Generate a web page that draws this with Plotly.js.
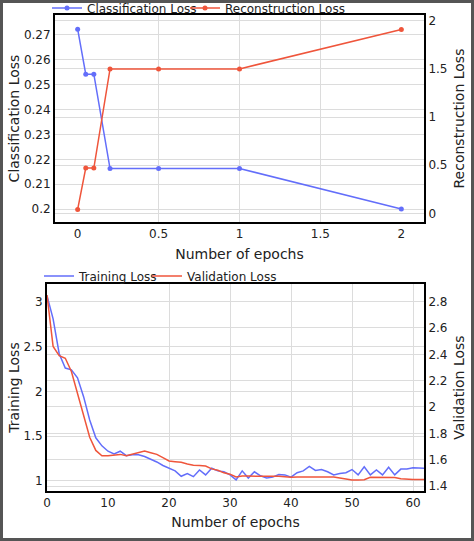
<!DOCTYPE html>
<html>
<head>
<meta charset="utf-8">
<script src="https://cdn.plot.ly/plotly-3.0.1.min.js"></script>
<style>
  html, body { margin: 0; padding: 0; background: #fff; overflow: hidden; }
  #wrap { width: 474px; height: 541px; overflow: hidden; position: relative; }
  #chart { position: absolute; left: 0; }
</style>
</head>
<body>
<div id="wrap"><div id="chart"></div></div>
<script>
// Upper panel: losses over the first two epochs
const stepEpochs = [0, 0.05, 0.1, 0.2, 0.5, 1, 2];
const classificationLoss = [0.2723, 0.2542, 0.2542, 0.2163, 0.2163, 0.2163, 0.2];
const reconstructionLoss = [0.04, 0.47, 0.47, 1.5, 1.5, 1.5, 1.91];

// Lower panel: per-epoch training / validation loss
const epochs = [];
for (let i = 0; i <= 62; i++) epochs.push(i);
const trainingLoss = [
  3.07, 2.81, 2.42, 2.26, 2.24, 2.15, 1.94, 1.68, 1.48, 1.39,
  1.33, 1.30, 1.33, 1.28, 1.29, 1.29, 1.27, 1.24, 1.21, 1.17,
  1.14, 1.11, 1.05, 1.08, 1.045, 1.12, 1.065, 1.14, 1.11, 1.10,
  1.065, 1.01, 1.11, 1.03, 1.10, 1.055, 1.03, 1.04, 1.07, 1.065,
  1.04, 1.09, 1.11, 1.16, 1.115, 1.125, 1.10, 1.065, 1.08, 1.09,
  1.125, 1.065, 1.155, 1.065, 1.12, 1.065, 1.15, 1.065, 1.13, 1.13,
  1.145, 1.14, 1.14
];
const validationLoss = [
  2.85, 2.46, 2.39, 2.37, 2.27, 2.10, 1.93, 1.77, 1.67, 1.63,
  1.63, 1.635, 1.64, 1.63, 1.64, 1.655, 1.665, 1.653, 1.64, 1.615,
  1.59, 1.585, 1.58, 1.567, 1.557, 1.556, 1.552, 1.53, 1.52, 1.50,
  1.49, 1.468, 1.475, 1.475, 1.476, 1.475, 1.475, 1.474, 1.474, 1.47,
  1.466, 1.468, 1.468, 1.47, 1.47, 1.47, 1.47, 1.468, 1.46, 1.452,
  1.445, 1.445, 1.447, 1.466, 1.466, 1.466, 1.466, 1.465, 1.455, 1.45,
  1.45, 1.45, 1.45
];

// Vertical grid positions (the axes carry labels, these carry the grid)
const stepGrid = [0.5, 1, 1.5];
const epochGrid = [20, 30, 40, 50, 60];

const BLUE = '#636efa';
const RED = '#ef553b';
const FONT = 'DejaVu Sans, Verdana, sans-serif';
const TXT = '#222';
const GRID = '#dcdcdc';

// The figure extends a little above the visible page so the legends can sit
// right at the top edge without pushing the plot margins.
const W = 474, VIEW_H = 541, OFF = 14, H = VIEW_H + OFF;
document.getElementById('chart').style.top = (-OFF) + 'px';
const fx = px => px / W;                 // page x (px) -> paper fraction
const fy = px => 1 - (px + OFF) / H;     // page y (px) -> paper fraction

const traces = [
  // empty placeholders that register the grid-only x axes
  { x: [], y: [], type: 'scatter', mode: 'lines', xaxis: 'x3', yaxis: 'y',
    showlegend: false, hoverinfo: 'skip' },
  { x: [], y: [], type: 'scatter', mode: 'lines', xaxis: 'x4', yaxis: 'y3',
    showlegend: false, hoverinfo: 'skip' },
  { x: stepEpochs, y: classificationLoss, name: 'Classification Loss', type: 'scatter',
    mode: 'lines+markers', xaxis: 'x', yaxis: 'y', legend: 'legend',
    line: { color: BLUE, width: 1.5 }, marker: { color: BLUE, size: 5 } },
  { x: stepEpochs, y: reconstructionLoss, name: 'Reconstruction Loss', type: 'scatter',
    mode: 'lines+markers', xaxis: 'x', yaxis: 'y2', legend: 'legend2',
    line: { color: RED, width: 1.5 }, marker: { color: RED, size: 5 } },
  { x: epochs, y: trainingLoss, name: 'Training Loss', type: 'scatter', mode: 'lines',
    xaxis: 'x2', yaxis: 'y3', legend: 'legend3',
    line: { color: BLUE, width: 1.5 } },
  { x: epochs, y: validationLoss, name: 'Validation Loss', type: 'scatter', mode: 'lines',
    xaxis: 'x2', yaxis: 'y4', legend: 'legend4',
    line: { color: RED, width: 1.5 } }
];

function axisBase(extra) {
  return Object.assign({
    showline: true, linecolor: '#000', linewidth: 2,
    showgrid: true, gridcolor: GRID, gridwidth: 1,
    zeroline: false, ticks: '', automargin: false,
    tickfont: { family: FONT, size: 12, color: TXT }
  }, extra);
}
function gridAxis(extra) {
  return Object.assign({
    showline: false, showticklabels: false, ticks: '', zeroline: false,
    showgrid: true, gridcolor: GRID, gridwidth: 1, automargin: false, tickmode: 'array'
  }, extra);
}
function title(text, standoff) {
  return { text: text, font: { family: FONT, size: 14, color: TXT }, standoff: standoff };
}
function legendAt(xPx, yPx) {
  return { x: fx(xPx), y: fy(yPx), xanchor: 'left', yanchor: 'middle',
    orientation: 'h', bgcolor: 'rgba(0,0,0,0)', borderwidth: 0,
    font: { family: FONT, size: 12, color: TXT }, itemwidth: 30 };
}

const stepRange = [-0.14, 2.14];
const epochRange = [0, 61.8];

const layout = {
  width: W, height: H,
  margin: { l: 0, r: 0, t: 0, b: 0 },
  paper_bgcolor: '#fff', plot_bgcolor: '#fff',
  font: { family: FONT, size: 12, color: TXT },
  showlegend: true,
  xaxis: axisBase({ domain: [fx(55), fx(424)], range: stepRange, dtick: 0.5, tick0: 0,
    showgrid: false, anchor: 'y', mirror: true, title: title('Number of epochs', 9) }),
  xaxis3: gridAxis({ overlaying: 'x', anchor: 'y', range: stepRange, tickvals: stepGrid }),
  yaxis: axisBase({ domain: [fy(222), fy(15)], range: [0.1948, 0.278], dtick: 0.01, tick0: 0.2,
    anchor: 'x', mirror: true, title: title('Classification Loss', 1) }),
  yaxis2: axisBase({ overlaying: 'y', side: 'right', anchor: 'x', range: [-0.09, 2.06],
    dtick: 0.5, tick0: 0, title: title('Reconstruction Loss', 8) }),
  xaxis2: axisBase({ domain: [fx(47), fx(424)], range: epochRange, dtick: 10, tick0: 0,
    showgrid: false, anchor: 'y3', mirror: true, title: title('Number of epochs', 8) }),
  xaxis4: gridAxis({ overlaying: 'x2', anchor: 'y3', range: epochRange, tickvals: epochGrid }),
  yaxis3: axisBase({ domain: [fy(491), fy(284)], range: [0.885, 3.2], dtick: 0.5, tick0: 0,
    anchor: 'x2', mirror: true, title: title('Training Loss', 1) }),
  yaxis4: axisBase({ overlaying: 'y3', side: 'right', anchor: 'x2', range: [1.362, 2.934],
    dtick: 0.2, tick0: 0, title: title('Validation Loss', 8) }),
  legend: legendAt(47, 8),
  legend2: legendAt(185, 8),
  legend3: legendAt(39, 276),
  legend4: legendAt(147, 276),
  shapes: [
    { type: 'rect', xref: 'paper', yref: 'paper',
      x0: fx(1.5), x1: fx(W - 1.5), y0: fy(VIEW_H - 1.5), y1: fy(1.5),
      line: { color: '#555', width: 3 }, fillcolor: 'rgba(0,0,0,0)', layer: 'above' }
  ]
};

Plotly.newPlot('chart', traces, layout, { staticPlot: true, displayModeBar: false });
</script>
</body>
</html>
